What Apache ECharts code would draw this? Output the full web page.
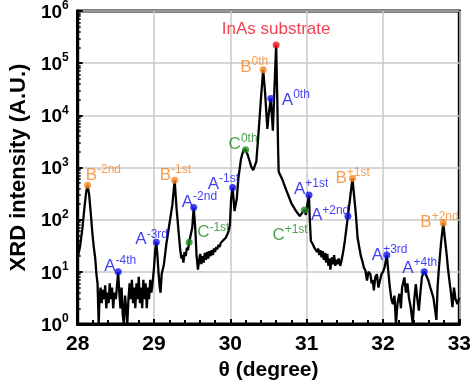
<!DOCTYPE html>
<html><head><meta charset="utf-8">
<script src="https://cdn.jsdelivr.net/npm/echarts@6/dist/echarts.min.js"></script>
<style>html,body{margin:0;padding:0;background:#fff}#c{width:474px;height:386px}</style>
</head><body><div id="c"></div>
<script>
// ---- measured XRD trace ----
const thetaTrace = [
28.00,28.03,28.06,28.09,28.11,28.13,28.15,28.17,28.19,28.21,28.23,28.245,28.26,28.275,28.285,28.30,28.315,28.33,28.345,28.36,
28.375,28.39,28.405,28.42,28.435,28.45,28.465,28.48,28.50,28.53,28.545,28.56,28.575,28.59,28.605,28.62,28.635,28.65,28.665,28.68,
28.695,28.71,28.725,28.74,28.755,28.77,28.785,28.80,28.815,28.83,28.845,28.86,28.875,28.89,28.905,28.92,28.935,28.95,28.965,28.98,
29.00,29.015,29.03,29.045,29.06,29.075,29.085,29.10,29.13,29.16,29.20,29.24,29.27,29.295,29.325,29.345,29.36,29.37,29.385,29.40,
29.415,29.43,29.445,29.46,29.48,29.50,29.52,29.54,29.557,29.575,29.59,29.605,29.62,29.635,29.65,29.665,29.68,29.695,29.71,29.725,
29.74,29.755,29.77,29.785,29.80,29.815,29.83,29.845,29.86,29.875,29.89,29.905,29.92,29.94,29.96,29.98,29.995,30.01,30.03,30.055,
30.085,30.105,30.14,30.17,30.20,30.23,30.275,30.30,30.34,30.37,30.40,30.43,30.455,30.485,30.50,30.53,30.557,30.58,30.60,30.615,
30.625,30.633,30.675,30.74,30.80,30.865,30.91,30.94,30.97,30.99,31.01,31.03,31.04,31.055,31.08,31.10,31.12,31.135,31.15,31.165,
31.18,31.195,31.21,31.225,31.24,31.255,31.27,31.285,31.30,31.31,31.33,31.345,31.36,31.375,31.39,31.405,31.42,31.44,31.455,31.48,
31.50,31.54,31.60,31.645,31.667,31.69,31.71,31.73,31.75,31.77,31.79,31.81,31.835,31.85,31.865,31.88,31.90,31.92,31.94,31.96,
31.98,32.00,32.02,32.05,32.07,32.09,32.11,32.13,32.15,32.17,32.19,32.215,32.235,32.25,32.28,32.30,32.32,32.34,32.365,32.39,
32.41,32.43,32.45,32.47,32.49,32.51,32.54,32.56,32.595,32.62,32.64,32.66,32.68,32.70,32.715,32.73,32.76,32.79,32.81,32.835,
32.85,32.87,32.89,32.91,32.93,32.95,32.975,33.00
];
const intensityTrace = [
19,30,65,180,330,450,300,140,60,30,18,9,6,1.0,3,5,2.5,4.5,3,5.5,
2,4,2.5,6,3,5,2,4,3,10,4,2,5,1.5,1.0,3.5,2,1.0,3,6,
3,7,2.5,5,2,6,3,8,2.5,5,2,7,3,6,2,5,3,7,4,6,
12,25,37,20,9,5,4,9,14,33,80,192,570,166,52,25,18,21,15,24,
20,29,26,37,39,69,171,69,21,11,16,22,14,20,15,23,17,24,18,25,
20,26,21,28,24,30,27,33,30,36,33,40,38,45,52,62,80,250,414,146,
257,617,1470,2130,2200,1700,1030,890,1290,4800,20000,75000,27000,5500,9800,21000,5100,40000,224000,20000,
2500,830,617,344,206,143,117,135,154,124,200,297,107,39,34,29,31,24,28,21,
26,19,25,17,23,15,22,13,18,11,19,14,21,13,17,14,18,13,16,25,
39,116,616,124,45,29,20,16,12,10.6,6.8,10,9,6,7,4.4,8,9,5,6.8,
9,10,12,21,10,5,3,2.4,3.5,1.0,2.5,3.8,2,5,7.8,4,6,3.2,2,1.0,
3,5.8,3,1.8,4,8,10,9,6.8,5,4,3.2,2,1.2,5,10.6,35,86,45,21,
12,6.8,4,2.1,5,3,2.4,3.2
];

// ---- labelled satellite peaks ----
const bTheta = [28.13, 29.27, 30.43, 31.60, 32.79];
const bIntensity = [459, 572, 75000, 616, 86];
const bOrder = ['-2nd', '-1st', '0th', '+1st', '+2nd'];

const aTheta = [28.53, 29.03, 29.52, 30.03, 30.53, 31.03, 31.54, 32.05, 32.54];
const aIntensity = [10, 37, 171, 414, 21000, 297, 116, 21, 10];
const aOrder = ['-4th', '-3rd', '-2nd', '-1st', '0th', '+1st', '+2nd', '+3rd', '+4th'];

const cTheta = [29.46, 30.20, 30.97];
const cIntensity = [37, 2200, 154];
const cOrder = ['-1st', '0th', '+1st'];

const subTheta = [30.60];
const subIntensity = [224000];
const subName = ['InAs substrate'];

// ---- layout (label offsets from marker centre, px) ----
const bOffsets = [[-2,-21],[-15,-16],[-23,-14],[-17,-12],[-23,-12]];
const aOffsets = [[-14,-17],[-21,-14],[-12,-17],[-25,-15],[11,-10],[-15,-17],[-37,-12],[-15,-11],[-22,-15]];
const cOffsets = [[8,-21],[-17,-17],[-32,14]];

const FONT = '"Liberation Sans", Arial, sans-serif';
const SYM = 7;
const ORANGE = '#f5841f', BLUE = '#1010ee', GREEN = '#1f8a1f', RED = '#ee1122';

function peakSeries(letter, thetas, vals, orders, offsets, color) {
  return {
    type: 'scatter', symbolSize: SYM, z: 5,
    itemStyle: { color: color },
    data: thetas.map((t, i) => ({
      value: [t, vals[i]],
      label: {
        show: true,
        position: [offsets[i][0] + SYM / 2, offsets[i][1] + SYM / 2],
        align: 'left', verticalAlign: 'top',
        formatter: '{m|' + letter + '}{s|' + orders[i] + '}'
      }
    })),
    label: {
      color: color,
      rich: {
        m: { fontSize: 17, lineHeight: 20, verticalAlign: 'bottom', fontFamily: FONT, color: color },
        s: { fontSize: 12, lineHeight: 11, verticalAlign: 'top', fontFamily: FONT, color: color }
      }
    }
  };
}

const chart = echarts.init(document.getElementById('c'), null, { renderer: 'canvas' });
chart.setOption({
  animation: false,
  backgroundColor: '#fff',
  grid: { left: 67, right: 12, top: 11, bottom: 59, show: true, borderColor: '#000', borderWidth: 3, backgroundColor: 'transparent' },
  xAxis: {
    type: 'value', min: 28, max: 33, interval: 1,
    name: 'θ (degree)', nameLocation: 'middle', nameGap: 36,
    nameTextStyle: { fontFamily: FONT, fontWeight: 'bold', fontSize: 21, color: '#000' },
    axisLine: { show: true, lineStyle: { color: '#000', width: 3 } },
    axisTick: { show: true, inside: true, length: 5, lineStyle: { color: '#000', width: 2 } },
    minorTick: { show: true, splitNumber: 5, length: 4, lineStyle: { color: '#000', width: 2 } },
    axisLabel: { fontFamily: FONT, fontWeight: 'bold', fontSize: 21, color: '#000', margin: 10 },
    splitLine: { show: true, lineStyle: { color: '#c8c8c8', width: 1.5 } }
  },
  yAxis: {
    type: 'log', logBase: 10, min: 1, max: 1e6,
    name: 'XRD intensity (A.U.)', nameLocation: 'middle', nameGap: 47,
    nameTextStyle: { fontFamily: FONT, fontWeight: 'bold', fontSize: 22, color: '#000' },
    axisLine: { show: true, lineStyle: { color: '#000', width: 3 } },
    axisTick: { show: true, inside: true, length: 5, lineStyle: { color: '#000', width: 2 } },
    minorTick: { show: true, splitNumber: 9, length: 3, lineStyle: { color: '#000', width: 1.5 } },
    axisLabel: {
      margin: 9,
      formatter: v => '{b|10}{s|' + Math.round(Math.log10(v)) + '}',
      rich: {
        b: { fontFamily: FONT, fontWeight: 'bold', fontSize: 19, lineHeight: 22, verticalAlign: 'bottom', color: '#000' },
        s: { fontFamily: FONT, fontWeight: 'bold', fontSize: 12, lineHeight: 12, verticalAlign: 'top', color: '#000' }
      }
    },
    splitLine: { show: true, lineStyle: { color: '#c8c8c8', width: 1.5 } }
  },
  series: [
    {
      type: 'line', showSymbol: false, z: 2,
      lineStyle: { color: '#000', width: 2.3 },
      data: thetaTrace.map((t, i) => [t, intensityTrace[i]])
    },
    peakSeries('B', bTheta, bIntensity, bOrder, bOffsets, ORANGE),
    peakSeries('A', aTheta, aIntensity, aOrder, aOffsets, BLUE),
    peakSeries('C', cTheta, cIntensity, cOrder, cOffsets, GREEN),
    {
      type: 'scatter', symbolSize: SYM, z: 5,
      itemStyle: { color: RED },
      data: subTheta.map((t, i) => ({ value: [t, subIntensity[i]], name: subName[i] })),
      label: {
        show: true, position: 'top', distance: 4,
        formatter: p => p.name,
        fontFamily: FONT, fontSize: 17, color: RED
      }
    }
  ]
});
</script>
</body></html>
